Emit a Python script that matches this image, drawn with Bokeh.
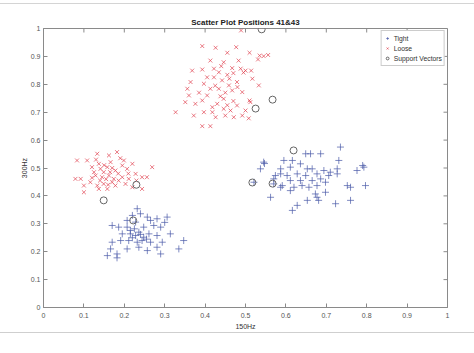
from bokeh.plotting import figure
from bokeh.models import Range1d, FixedTicker, Legend, LegendItem, Div
from bokeh.layouts import column
from bokeh.embed import file_html
from bokeh.resources import INLINE

title_text = "Scatter Plot Positions 41&43"
x_label = "150Hz"
y_label = "300Hz"

ticks = [0, 0.1, 0.2, 0.3, 0.4, 0.5, 0.6, 0.7, 0.8, 0.9, 1]
tick_labels = ["0", "0.1", "0.2", "0.3", "0.4", "0.5", "0.6", "0.7", "0.8", "0.9", "1"]

# "Loose" class (red x): upper cluster and left cluster
loose_x = [
    0.393, 0.426, 0.455, 0.477, 0.510, 0.531, 0.545, 0.413, 0.446, 0.483,
    0.368, 0.393, 0.422, 0.434, 0.467, 0.488, 0.500, 0.455, 0.422, 0.517,
    0.442, 0.479, 0.533, 0.364, 0.397, 0.459, 0.356, 0.413, 0.434, 0.467,
    0.492, 0.405, 0.438, 0.393, 0.351, 0.376, 0.446, 0.512, 0.327, 0.397,
    0.418, 0.446, 0.479, 0.500, 0.372, 0.426, 0.450, 0.471, 0.492, 0.508,
    0.393, 0.413, 0.430, 0.418, 0.463, 0.489, 0.514, 0.535, 0.556, 0.495,
    0.510, 0.460, 0.470, 0.450, 0.480, 0.425, 0.440, 0.405, 0.385, 0.470,
    0.455, 0.360,
    0.083, 0.108, 0.133, 0.162, 0.182, 0.166, 0.199, 0.120, 0.141, 0.158,
    0.178, 0.207, 0.220, 0.269, 0.079, 0.092, 0.129, 0.145, 0.162, 0.174,
    0.195, 0.211, 0.244, 0.256, 0.100, 0.133, 0.149, 0.178, 0.203, 0.220,
    0.244, 0.100, 0.137, 0.158, 0.125, 0.149, 0.137, 0.195, 0.186, 0.228,
    0.116, 0.170, 0.150, 0.170, 0.155, 0.140, 0.165, 0.185, 0.120, 0.210,
    0.190, 0.130, 0.160, 0.230,
]
loose_y = [
    0.937, 0.931, 0.913, 0.933, 0.913, 0.889, 0.901, 0.885, 0.879, 0.885,
    0.849, 0.853, 0.856, 0.843, 0.858, 0.856, 0.849, 0.834, 0.825, 0.820,
    0.814, 0.808, 0.796, 0.808, 0.802, 0.796, 0.784, 0.784, 0.784, 0.778,
    0.772, 0.760, 0.757, 0.742, 0.736, 0.730, 0.748, 0.736, 0.700, 0.700,
    0.700, 0.712, 0.724, 0.706, 0.688, 0.682, 0.688, 0.682, 0.688, 0.678,
    0.650, 0.650, 0.730, 0.718, 0.706, 0.993, 0.849, 0.903, 0.905, 0.842,
    0.742, 0.820, 0.840, 0.770, 0.790, 0.795, 0.865, 0.825, 0.770, 0.740,
    0.725, 0.760,
    0.527, 0.527, 0.551, 0.545, 0.557, 0.521, 0.527, 0.503, 0.497, 0.503,
    0.491, 0.497, 0.515, 0.503, 0.461, 0.461, 0.473, 0.467, 0.473, 0.461,
    0.467, 0.461, 0.467, 0.467, 0.437, 0.437, 0.443, 0.437, 0.443, 0.431,
    0.425, 0.413, 0.425, 0.425, 0.485, 0.485, 0.515, 0.509, 0.455, 0.479,
    0.449, 0.449, 0.510, 0.500, 0.460, 0.455, 0.485, 0.480, 0.465, 0.480,
    0.535, 0.530, 0.440, 0.455,
]

# "Tight" class (blue +): lower-left cluster and right cluster
tight_x = [
    0.232, 0.220, 0.240, 0.228, 0.257, 0.281, 0.306, 0.170, 0.186, 0.207,
    0.248, 0.273, 0.290, 0.195, 0.215, 0.236, 0.261, 0.281, 0.314, 0.170,
    0.191, 0.211, 0.232, 0.244, 0.265, 0.294, 0.347, 0.166, 0.207, 0.236,
    0.257, 0.281, 0.335, 0.158, 0.182, 0.290, 0.215, 0.228, 0.248, 0.207,
    0.265, 0.300, 0.182, 0.225, 0.240, 0.220, 0.255,
    0.735, 0.649, 0.661, 0.686, 0.731, 0.545, 0.595, 0.616, 0.636, 0.537,
    0.587, 0.611, 0.653, 0.694, 0.727, 0.776, 0.793, 0.587, 0.603, 0.628,
    0.649, 0.677, 0.706, 0.727, 0.570, 0.611, 0.636, 0.665, 0.686, 0.698,
    0.591, 0.620, 0.640, 0.657, 0.677, 0.752, 0.797, 0.760, 0.611, 0.673,
    0.698, 0.677, 0.562, 0.653, 0.681, 0.723, 0.760, 0.628, 0.616, 0.521,
    0.570, 0.587, 0.710, 0.665, 0.574, 0.547, 0.790,
]
tight_y = [
    0.354, 0.330, 0.336, 0.306, 0.324, 0.318, 0.324, 0.294, 0.288, 0.288,
    0.288, 0.294, 0.288, 0.264, 0.264, 0.270, 0.264, 0.258, 0.264, 0.234,
    0.240, 0.240, 0.234, 0.240, 0.234, 0.234, 0.240, 0.210, 0.210, 0.216,
    0.204, 0.216, 0.210, 0.186, 0.192, 0.192, 0.276, 0.258, 0.252, 0.312,
    0.312, 0.305, 0.178, 0.282, 0.262, 0.250, 0.245,
    0.575, 0.551, 0.551, 0.551, 0.527, 0.521, 0.527, 0.527, 0.515, 0.497,
    0.497, 0.503, 0.497, 0.491, 0.497, 0.491, 0.503, 0.479, 0.473, 0.479,
    0.473, 0.479, 0.473, 0.479, 0.461, 0.455, 0.455, 0.455, 0.461, 0.449,
    0.437, 0.431, 0.437, 0.431, 0.437, 0.437, 0.437, 0.431, 0.419, 0.407,
    0.413, 0.395, 0.395, 0.384, 0.384, 0.372, 0.384, 0.366, 0.348, 0.449,
    0.443, 0.431, 0.485, 0.497, 0.473, 0.516, 0.509,
]

# Support vectors (grey circles)
sv_x = [0.540, 0.567, 0.525, 0.619, 0.517, 0.567, 0.149, 0.230, 0.222]
sv_y = [0.997, 0.745, 0.713, 0.563, 0.448, 0.444, 0.384, 0.440, 0.312]

FONT = "Liberation Sans"
AXIS_COL = "#8a8a8a"
LABEL_COL = "#555555"
FRAME_W, FRAME_H = 404, 279
TICK_PX = 4

p = figure(width=474, height=328, output_backend="svg", toolbar_location=None,
           x_range=Range1d(0, 1), y_range=Range1d(0, 1),
           min_border_left=43, min_border_right=27, min_border_top=24,
           min_border_bottom=25)
p.background_fill_color = "white"
p.border_fill_color = "white"
p.outline_line_color = AXIS_COL
p.outline_line_width = 1
p.grid.visible = False

p.title.text = title_text
p.title.align = "center"
p.title.text_font = FONT
p.title.text_font_size = "8px"
p.title.text_font_style = "bold"
p.title.text_color = "#222222"
p.title.standoff = 3
p.title.offset = 0

for ax in (p.xaxis[0], p.yaxis[0]):
    ax.ticker = FixedTicker(ticks=ticks)
    ax.major_label_overrides = {t: l for t, l in zip(ticks, tick_labels)}
    ax.axis_line_color = AXIS_COL
    ax.major_tick_line_color = AXIS_COL
    ax.minor_tick_line_color = None
    ax.major_tick_in = TICK_PX
    ax.major_tick_out = 0
    ax.major_label_text_font = FONT
    ax.major_label_text_font_size = "7px"
    ax.major_label_text_color = LABEL_COL
    ax.axis_label_text_font = FONT
    ax.axis_label_text_font_size = "7px"
    ax.axis_label_text_font_style = "normal"
    ax.axis_label_text_color = "#333333"

p.xaxis[0].axis_label = x_label
p.yaxis[0].axis_label = y_label
p.xaxis[0].major_label_standoff = 5
p.xaxis[0].axis_label_standoff = 2
p.yaxis[0].major_label_standoff = 3
p.yaxis[0].axis_label_standoff = 0

# mirrored inward ticks on the top and right edges of the box
n = len(ticks)
p.segment(x0=ticks, y0=[1] * n, x1=ticks, y1=[1 - TICK_PX / FRAME_H] * n,
          line_color=AXIS_COL, line_width=1)
p.segment(x0=[1] * n, y0=ticks, x1=[1 - TICK_PX / FRAME_W] * n, y1=ticks,
          line_color=AXIS_COL, line_width=1)

r_tight = p.scatter(tight_x, tight_y, marker="cross", size=7,
                    line_color="#4a5aa8", line_width=1, line_alpha=0.7)
r_loose = p.scatter(loose_x, loose_y, marker="x", size=5.5,
                    line_color="#e0404f", line_width=1, line_alpha=0.7)
r_sv = p.scatter(sv_x, sv_y, marker="circle", size=7, fill_color=None,
                 line_color="#666666", line_width=1)

legend = Legend(items=[LegendItem(label="Tight", renderers=[r_tight]),
                       LegendItem(label="Loose", renderers=[r_loose]),
                       LegendItem(label="Support Vectors", renderers=[r_sv])],
                location="top_right")
legend.margin = 2
legend.padding = 2
legend.spacing = 0
legend.glyph_width = 7
legend.glyph_height = 10
legend.label_height = 10
legend.label_standoff = 3
legend.label_text_font = FONT
legend.label_text_font_size = "6.8px"
legend.label_text_color = "#333333"
legend.border_line_color = "#999999"
legend.border_line_width = 1
legend.background_fill_color = "white"
legend.background_fill_alpha = 1
p.add_layout(legend)

top_line = Div(text="", width=474, height=4, margin=0,
               styles={"border-bottom": "1px solid #d4d4d4", "box-sizing": "border-box"})
bottom_line = Div(text="", width=474, height=21, margin=0,
                  styles={"border-top": "1px solid #cfcfcf", "box-sizing": "border-box"})

layout = column(top_line, p, bottom_line, spacing=0)

open("out.html", "w").write(file_html(layout, INLINE))
